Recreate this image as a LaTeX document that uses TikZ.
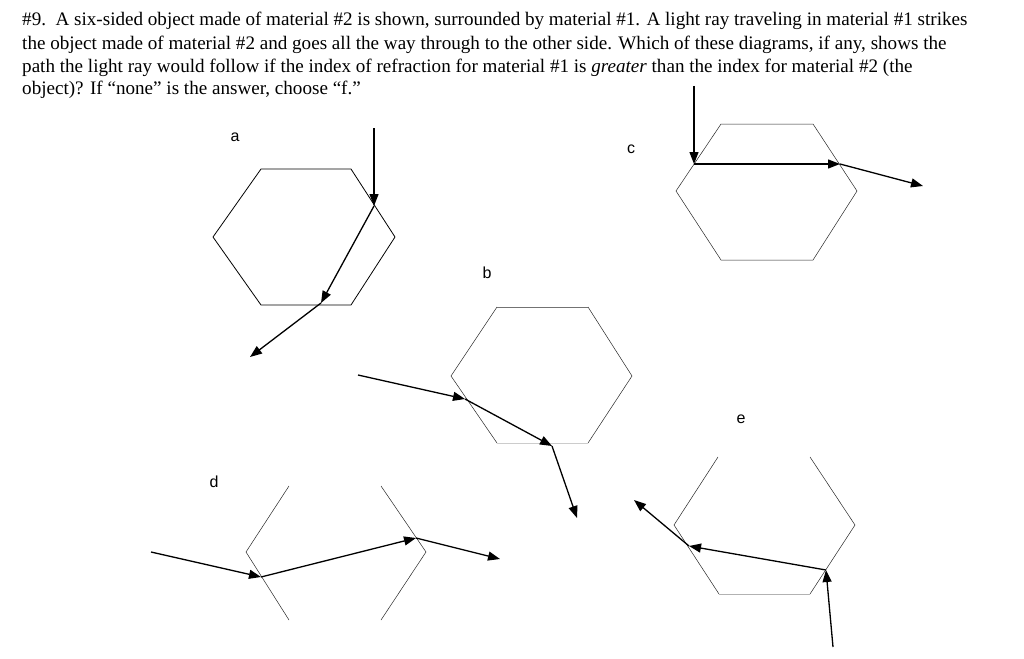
\documentclass[tikz,border=0pt]{standalone}
\usepackage{fontspec}
\setmainfont{Liberation Serif}
\newfontfamily\lbl{Liberation Sans}
\usetikzlibrary{arrows.meta}
\begin{document}
\begin{tikzpicture}[x=1pt,y=-1pt,
  ray/.style={line width=1.3pt,-{Triangle[length=12pt,width=9pt]}},
  hex/.style={line width=0.5pt,black!85},
  txt/.style={anchor=west,inner sep=0pt,font=\fontsize{19.1}{21}\selectfont},
  lab/.style={inner sep=0pt,font=\lbl\fontsize{16}{18}\selectfont}]
\useasboundingbox (0,0) rectangle (1024,658);
\node[txt] (l1) at (22,21) {\#9.\ \ A six-sided object made of material \#2 is shown, surrounded by material \#1. A light ray traveling in material \#1 strikes};
\node[txt] (l2) at (22,45) {the object made of material \#2 and goes all the way through to the other side. Which of these diagrams, if any, shows the};
\node[txt] (l3) at (22,68) {path the light ray would follow if the index of refraction for material \#1 is \textit{greater} than the index for material \#2 (the};
\node[txt] (l4) at (22,90) {object)? If \char"201Cnone\char"201D{} is the answer, choose \char"201Cf.\char"201D};
\node[lab] (la) at (235,137) {a};
\node[lab] (lb) at (487,273) {b};
\node[lab] (lc) at (631,149) {c};
\node[lab] (ld) at (214,482) {d};
\node[lab] (le) at (741,419) {e};
% a
\draw[line width=0.8pt] (261,169)--(351,169)--(395,237)--(351,305)--(261,305)--(213,237)--cycle;
\coordinate (a0) at (374,128); \coordinate (a1) at (374,206); \coordinate (a2) at (321,303); \coordinate (a3) at (250,357);
\draw[ray] (a0)--(a1); \draw[ray] (a1)--(a2); \draw[ray] (a2)--(a3);
% b
\draw[hex] (497,443)--(451,376)--(497,307); \draw[black!55,line width=0.6pt] (497,307)--(588,307);
\draw[hex] (588,307)--(632,376)--(588,443); \draw[black!20,line width=0.5pt] (497,443)--(588,443);
\coordinate (b0) at (358,375); \coordinate (b1) at (465,399); \coordinate (b2) at (552,446); \coordinate (b3) at (577,518);
\draw[ray] (b0)--(b1); \draw[ray] (b1)--(b2); \draw[ray] (b2)--(b3);
% c
\draw[hex] (721,124)--(813,124)--(857,191)--(813,260)--(721,260)--(676,191)--cycle;
\coordinate (c0) at (694,86); \coordinate (c1) at (694,164); \coordinate (c2) at (840,164); \coordinate (c3) at (923,186);
\draw[ray] (c0)--(c1); \draw[ray] (c1)--(c2); \draw[ray] (c2)--(c3);
% d
\draw[hex] (289,486)--(246,552)--(289,620);
\draw[hex] (381,486)--(426,552)--(381,620);
\coordinate (d0) at (151,552); \coordinate (d1) at (261,577); \coordinate (d2) at (416,538); \coordinate (d3) at (500,559);
\draw[ray] (d0)--(d1); \draw[ray] (d1)--(d2); \draw[ray] (d2)--(d3);
% e
\draw[hex] (718,457)--(674,525)--(719,594); \draw[black!30,line width=0.5pt] (719,594)--(810,594);
\draw[hex] (810,594)--(855,525)--(810,457);
\coordinate (e0) at (833,647); \coordinate (e1) at (826,570); \coordinate (e2) at (689,546); \coordinate (e3) at (634,500);
\draw[ray] (e0)--(e1); \draw[ray] (e1)--(e2); \draw[ray] (e2)--(e3);
\end{tikzpicture}
\end{document}
